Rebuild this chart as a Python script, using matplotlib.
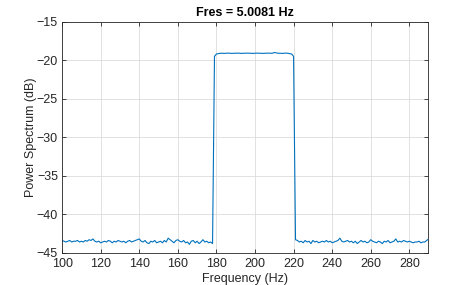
import numpy as np
import matplotlib
matplotlib.use("Agg")
import matplotlib.pyplot as plt

plt.rcParams['font.family'] = ['Liberation Sans', 'DejaVu Sans']

# power spectrum (dB), 1 Hz bins starting at 100 Hz
noise_lo = [-43.4, -43.5, -43.6, -43.5, -43.4, -43.6, -43.5, -43.5, -43.4, -43.6,
            -43.5, -43.6, -43.4, -43.5, -43.3, -43.4, -43.2, -43.5, -43.6, -43.5,
            -43.7, -43.6, -43.5, -43.6, -43.4, -43.5, -43.7, -43.5, -43.6, -43.4,
            -43.5, -43.6, -43.5, -43.7, -43.5, -43.4, -43.6, -43.5, -43.4, -43.3,
            -43.2, -43.5, -43.6, -43.4, -43.7, -43.8, -43.5, -43.6, -43.4, -43.7,
            -43.6, -43.5, -43.7, -43.4, -43.6, -43.1, -43.3, -43.5, -43.7, -43.4,
            -43.3, -43.5, -43.6, -43.4, -43.7, -43.6, -43.9, -43.5, -43.4, -43.7,
            -43.5, -43.8, -43.6, -43.3, -43.6, -43.5, -43.7, -43.6, -43.8]
band = [-19.5, -19.2, -19.15, -19.1, -19.1, -19.12, -19.1, -19.08, -19.1, -19.12,
        -19.1, -19.1, -19.08, -19.1, -19.12, -19.1, -19.1, -19.08, -19.1, -19.1,
        -19.12, -19.1, -19.08, -19.1, -19.1, -19.12, -19.1, -19.1, -19.08, -19.1,
        -19.1, -19.0, -19.05, -19.1, -19.1, -19.12, -19.1, -19.08, -19.1, -19.15,
        -19.2, -19.5]
noise_hi = [-43.3, -43.4, -43.6, -43.5, -43.7, -43.4, -43.6, -43.5, -43.8, -43.4,
            -43.6, -43.5, -43.7, -43.6, -43.5, -43.6, -43.4, -43.6, -43.5, -43.7,
            -43.6, -43.5, -43.4, -43.1, -43.5, -43.6, -43.5, -43.4, -43.6, -43.5,
            -43.7, -43.5, -43.8, -43.6, -43.4, -43.6, -43.5, -43.7, -43.6, -43.3,
            -43.5, -43.6, -43.7, -43.5, -43.6, -43.8, -43.5, -43.6, -43.4, -43.7,
            -43.6, -43.5, -43.2, -43.6, -43.5, -43.6, -43.4, -43.5, -43.6, -43.5,
            -43.6, -43.7, -43.6, -43.6, -43.5, -43.7, -43.6, -43.6, -43.4, -43.2]

power = np.array(noise_lo + band + noise_hi)
freq = 100 + np.arange(len(power))

fig = plt.figure(figsize=(4.74, 2.85), dpi=100)
ax = fig.add_axes([0.131, 0.113, 0.772, 0.811])

ax.plot(freq, power, color='#0072BD', lw=0.8)

ax.set_xlim(100, 289.7)
ax.set_ylim(-45, -15)
ax.set_xticks(np.arange(100, 281, 20))
ax.set_yticks(np.arange(-45, -14, 5))
ax.grid(True, color='#dcdcdc', lw=0.6)
ax.set_axisbelow(True)

for s in ax.spines.values():
    s.set_color('#262626')
    s.set_linewidth(0.6)
ax.tick_params(direction='in', length=3, width=0.6, colors='#262626',
               labelsize=9, top=True, right=True)
ax.tick_params(axis='x', pad=4)
ax.tick_params(axis='y', pad=3)

ax.set_xlabel('Frequency (Hz)', fontsize=9, color='#262626', labelpad=2)
ax.set_ylabel('Power Spectrum (dB)', fontsize=9, color='#262626', labelpad=0)
ax.set_title('Fres = 5.0081 Hz', fontsize=9, fontweight='bold', pad=4)

fig.savefig('out.png', dpi=100)
